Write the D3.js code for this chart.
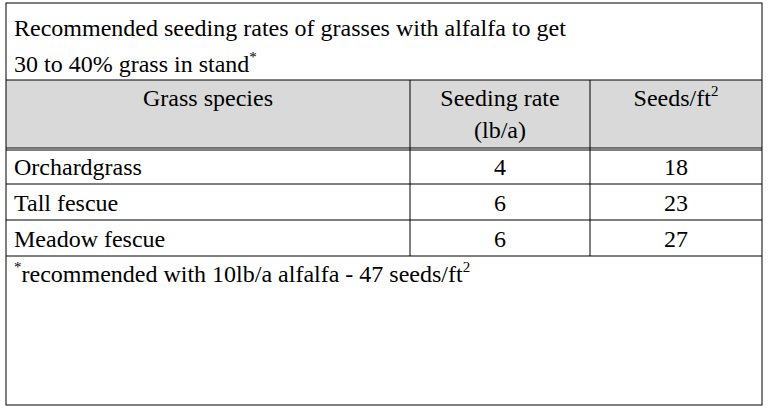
<!DOCTYPE html>
<html><head><meta charset="utf-8">
<script src="https://cdn.jsdelivr.net/npm/d3@7"></script>
<style>body{margin:0;background:#fff}</style>
</head><body><div id="chart"></div>
<script>
const species = ['Orchardgrass', 'Tall fescue', 'Meadow fescue']
const rates = [4, 6, 6]
const seeds = [18, 23, 27]

const W = 768, H = 412
const svg = d3.select('#chart').append('svg').attr('width', W).attr('height', H)
  .style('font-family', '"Liberation Serif", serif').style('font-size', '24px')

const boxLeft = 6, boxRight = 762, boxTop = 3, boxBottom = 405
const colX = [boxLeft, 410, 590, boxRight]
const headTop = 80, headBottom = 148
const rowY = d3.scaleBand().domain(d3.range(species.length)).range([headBottom, headBottom + 36 * species.length])

svg.append('rect').attr('x', boxLeft).attr('y', headTop).attr('width', boxRight - boxLeft)
  .attr('height', headBottom - headTop).attr('fill', '#d9d9d9')
svg.append('rect').attr('x', boxLeft).attr('y', boxTop).attr('width', boxRight - boxLeft)
  .attr('height', boxBottom - boxTop).attr('fill', 'none').attr('stroke', '#000')

const hline = (y) => svg.append('line').attr('x1', boxLeft).attr('x2', boxRight)
  .attr('y1', y).attr('y2', y).attr('stroke', '#000')
hline(headTop); hline(headBottom); hline(headBottom + 2)
species.forEach((d, i) => hline(rowY(i) + rowY.bandwidth()))
colX.slice(1, 3).forEach(x => svg.append('line').attr('x1', x).attr('x2', x)
  .attr('y1', headTop).attr('y2', rowY(species.length - 1) + rowY.bandwidth()).attr('stroke', '#000'))

svg.append('text').attr('x', 14).attr('y', 36)
  .text('Recommended seeding rates of grasses with alfalfa to get')
const t2 = svg.append('text').attr('x', 14).attr('y', 72)
t2.append('tspan').text('30 to 40% grass in stand')
t2.append('tspan').attr('dy', -10).style('font-size', '15px').text('*')

const mid = (a, b) => (a + b) / 2
svg.append('text').attr('x', mid(colX[0], colX[1])).attr('y', 106).attr('text-anchor', 'middle').text('Grass species')
svg.append('text').attr('x', mid(colX[1], colX[2])).attr('y', 106).attr('text-anchor', 'middle').text('Seeding rate')
svg.append('text').attr('x', mid(colX[1], colX[2])).attr('y', 138).attr('text-anchor', 'middle').text('(lb/a)')
const h3 = svg.append('text').attr('x', mid(colX[2], colX[3])).attr('y', 106).attr('text-anchor', 'middle')
h3.append('tspan').text('Seeds/ft')
h3.append('tspan').attr('dy', -10).style('font-size', '15px').text('2')

const rows = svg.selectAll('g.row').data(species).join('g')
  .attr('transform', (d, i) => `translate(0,${rowY(i) + rowY.bandwidth() / 2 + 9})`)
rows.append('text').attr('x', 14).text(d => d)
rows.append('text').attr('x', mid(colX[1], colX[2])).attr('text-anchor', 'middle').text((d, i) => rates[i])
rows.append('text').attr('x', mid(colX[2], colX[3])).attr('text-anchor', 'middle').text((d, i) => seeds[i])

const fn = svg.append('text').attr('x', 14).attr('y', 282)
fn.append('tspan').attr('dy', -10).style('font-size', '15px').text('*')
fn.append('tspan').attr('dy', 10).text('recommended with 10lb/a alfalfa - 47 seeds/ft')
fn.append('tspan').attr('dy', -10).style('font-size', '15px').text('2')
</script></body></html>
